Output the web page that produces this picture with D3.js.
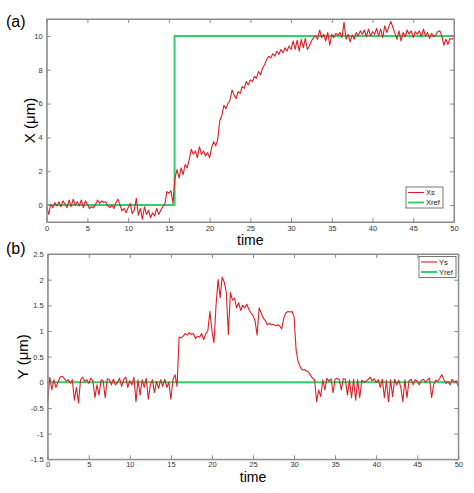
<!DOCTYPE html>
<html lang="en">
<head>
  <meta charset="UTF-8">
  <title>X and Y tracking</title>
  <style>
    body { margin: 0; background: #fff; }
    svg { display: block; font-family: "Liberation Sans", Arial, sans-serif; }
    .tick text { font-size: 7.5px; fill: #333; }
    .tick line, .domain { stroke: #8a8a8a; }
    .frame { fill: none; stroke: #8a8a8a; stroke-width: 1; }
    .legend text { font-size: 7.5px; fill: #222; }
  </style>
</head>
<body>
  <svg width="474" height="493"></svg>
  <script src="https://d3js.org/d3.v7.min.js"></script>
  <script>
    // sample time, 0.25 s step
    const time = d3.range(0, 50.001, 0.25);

    const xsValues = [
      -0.1, -0.55, 0.05, -0.15, 0.15, -0.05, 0.2, -0.1, 0.25, 0.05, -0.15, 0.3,
      -0.1, 0.35, 0.0, 0.2, -0.05, 0.3, -0.15, 0.25, 0.05, -0.2, -0.1, -0.15,
      0.05, 0.3, 0.1, 0.25, 0.15, 0.2, -0.05, -0.15, 0.0, -0.2, 0.15, 0.35,
      0.0, -0.35, -0.2, -0.45, -0.15, 0.1, -0.5, -0.3, 0.4, -0.6, -0.2, -0.85,
      -0.1, -0.55, -0.3, -0.75, -0.45, -0.65, -0.2, -0.55, -0.3, -0.1, 0.05, 0.8,
      0.7, 0.85, 0.1, 1.6, 2.1, 1.6, 2.2, 1.8, 2.4, 2.2, 2.7, 3.3,
      3.0, 3.2, 2.8, 3.45, 3.0, 3.2, 2.9, 3.1, 2.8, 3.4, 3.75, 3.5,
      3.9, 5.0, 5.3, 5.9, 5.7, 6.0, 6.2, 6.8, 6.5, 6.3, 6.7, 6.6,
      7.0, 6.9, 7.3, 7.1, 7.4, 7.3, 7.6, 7.5, 7.9, 7.7, 8.1, 8.3,
      8.6, 8.8, 8.7, 8.95, 8.8, 9.1, 8.9, 9.2, 9.0, 9.3, 9.1, 9.4,
      9.2, 9.7, 9.2, 9.75, 9.1, 9.8, 9.3, 9.85, 9.2, 9.4, 9.7, 9.9,
      10.0, 9.8, 10.35, 9.9, 10.1, 9.7, 10.2, 9.45, 10.1, 9.9, 10.15, 10.05,
      10.2, 9.9, 10.8, 9.8, 10.1, 9.65, 10.05, 9.8, 10.2, 10.0, 10.3, 10.1,
      10.35, 9.95, 10.4, 10.0, 10.25, 10.1, 10.45, 10.0, 10.4, 9.9, 10.6, 10.2,
      10.55, 10.85, 10.5, 10.15, 9.8, 10.3, 9.7, 10.2, 9.95, 10.35, 10.1, 10.3,
      9.9, 10.25, 10.1, 10.3, 9.95, 10.4, 10.0, 10.2, 9.85, 10.15, 9.95, 10.05,
      10.25, 10.3, 10.0, 9.45, 9.8, 9.5, 9.85, 9.8, 9.9
    ];

    const ysValues = [
      -0.38, 0.1, -0.15, 0.05, -0.1, 0.0, 0.1, 0.12, 0.08, 0.02, 0.05, -0.02,
      0.05, -0.35, -0.1, -0.4, 0.05, 0.1, 0.02, 0.05, -0.02, 0.08, 0.03, -0.3,
      -0.05, -0.25, 0.05, 0.03, -0.3, 0.07, 0.05, -0.05, 0.06, -0.05, 0.0, 0.08,
      -0.08, 0.05, 0.1, -0.1, 0.03, -0.05, 0.1, -0.38, 0.05, -0.25, 0.05, -0.1,
      0.08, -0.33, -0.05, 0.05, -0.2, 0.02, -0.12, 0.05, -0.08, 0.06, -0.1, 0.0,
      -0.33, 0.05, 0.15, -0.08, 0.88, 0.87, 0.9, 0.95, 0.92, 0.97, 0.93, 0.95,
      0.85, 0.9, 0.88, 0.95, 0.83, 0.95, 1.0, 1.38, 1.0, 0.77, 1.5, 2.0,
      1.65, 2.05, 1.95, 1.75, 0.93, 1.75, 1.6, 1.64, 1.45, 1.55, 1.4, 1.5,
      1.45, 1.52, 1.42, 1.35, 1.3, 1.2, 0.92, 1.45, 1.35, 1.25, 1.2, 1.12,
      1.15, 1.12, 1.13, 1.1, 1.12, 1.1, 1.04, 1.25, 1.35, 1.38, 1.37, 1.38,
      1.28, 0.63, 0.4, 0.3, 0.24, 0.25, 0.22, 0.2, 0.14, 0.08, 0.05, -0.38,
      -0.15, -0.28, 0.05, -0.15, 0.08, 0.02, 0.07, -0.2, 0.06, 0.08, 0.05, -0.15,
      0.07, 0.06, -0.25, 0.05, -0.3, 0.06, -0.35, 0.05, -0.3, 0.04, 0.0, 0.02,
      0.05, 0.1, 0.03, 0.07, 0.0, 0.05, -0.1, 0.06, -0.3, 0.04, -0.38, 0.05,
      -0.28, 0.06, -0.05, 0.04, -0.1, -0.38, 0.05, -0.3, 0.03, 0.06, -0.05, 0.05,
      0.02, -0.05, 0.04, 0.06, 0.0, 0.05, 0.08, -0.3, -0.05, 0.04, 0.02, 0.08,
      0.15, 0.05, -0.02, 0.02, -0.05, 0.06, 0.0, 0.03, -0.08
    ];

    // reference steps: [time, value] breakpoints
    const xrefSteps = [[0, 0], [15.7, 0], [15.7, 10], [50, 10]];
    const yrefSteps = [[0, 0], [50, 0]];

    const timeTicks = [0, 5, 10, 15, 20, 25, 30, 35, 40, 45, 50];
    const xTicks = [0, 2, 4, 6, 8, 10];
    const yTicks = [-1.5, -1, -0.5, 0, 0.5, 1, 1.5, 2, 2.5];

    const red = "#dd1f26";
    const green = "#2fd16a";
    const fmt = d => String(d);   // matlab style: 1, 0.5, -1.5

    const svg = d3.select("svg");

    function panel(opt) {
      const x = d3.scaleLinear().domain([0, 50]).range([opt.left, opt.right]);
      const y = d3.scaleLinear().domain(opt.yDomain).range([opt.bottom, opt.top]);
      const g = svg.append("g");

      g.append("rect").attr("x", opt.left).attr("y", opt.top)
        .attr("width", opt.right - opt.left).attr("height", opt.bottom - opt.top)
        .attr("fill", "#fff");

      const line = d3.line().x(d => x(d[0])).y(d => y(d[1]));

      g.append("path").datum(opt.ref)
        .attr("d", line).attr("fill", "none")
        .attr("stroke", green).attr("stroke-width", 2);

      g.append("path").datum(time.map((t, i) => [t, opt.values[i]]))
        .attr("d", line).attr("fill", "none")
        .attr("stroke", red).attr("stroke-width", 1.1)
        .attr("stroke-linejoin", "round");

      g.append("g").attr("transform", `translate(0,${opt.bottom})`)
        .call(d3.axisBottom(x).tickValues(timeTicks).tickSize(-4).tickSizeOuter(0)
          .tickPadding(opt.xPad).tickFormat(fmt));
      g.append("g").attr("transform", `translate(0,${opt.top})`)
        .call(d3.axisTop(x).tickValues(timeTicks).tickSize(-4).tickSizeOuter(0).tickFormat(""));
      g.append("g").attr("transform", `translate(${opt.left},0)`)
        .call(d3.axisLeft(y).tickValues(opt.yTicks).tickSize(-4).tickSizeOuter(0)
          .tickPadding(4).tickFormat(fmt));
      g.append("g").attr("transform", `translate(${opt.right},0)`)
        .call(d3.axisRight(y).tickValues(opt.yTicks).tickSize(-4).tickSizeOuter(0).tickFormat(""));

      g.append("rect").attr("class", "frame")
        .attr("x", opt.left).attr("y", opt.top)
        .attr("width", opt.right - opt.left).attr("height", opt.bottom - opt.top);

      g.append("text").attr("x", (opt.left + opt.right) / 2).attr("y", opt.timeY)
        .attr("text-anchor", "middle").attr("font-size", 14).text("time");

      g.append("text")
        .attr("transform", `translate(${opt.labelX},${(opt.top + opt.bottom) / 2}) rotate(-90)`)
        .attr("text-anchor", "middle").attr("font-size", 15).text(opt.yLabel);

      g.append("text").attr("x", opt.tagX).attr("y", opt.tagY)
        .attr("font-size", 16).text(opt.tag);

      const lg = g.append("g").attr("class", "legend");
      lg.append("rect").attr("x", opt.legend.x).attr("y", opt.legend.y)
        .attr("width", 37).attr("height", 21)
        .attr("fill", "#fff").attr("stroke", "#555").attr("stroke-width", 0.8);
      opt.legend.names.forEach((name, i) => {
        const ly = opt.legend.y + 5.5 + i * 10;
        lg.append("line").attr("x1", opt.legend.x + 2).attr("x2", opt.legend.x + 18)
          .attr("y1", ly).attr("y2", ly)
          .attr("stroke", i === 0 ? red : green).attr("stroke-width", i === 0 ? 1.1 : 2);
        lg.append("text").attr("x", opt.legend.x + 20).attr("y", ly + 2.7).text(name);
      });
    }

    panel({
      left: 46.7, right: 454, top: 19, bottom: 222,
      yDomain: [-1, 11], yTicks: xTicks, values: xsValues, ref: xrefSteps,
      yLabel: "X (μm)", labelX: 35, timeY: 245, xPad: 3.5,
      tag: "(a)", tagX: 6, tagY: 27,
      legend: { x: 406, y: 187, names: ["Xs", "Xref"] }
    });

    panel({
      left: 47.7, right: 458.3, top: 254, bottom: 459.3,
      yDomain: [-1.5, 2.5], yTicks: yTicks, values: ysValues, ref: yrefSteps,
      yLabel: "Y (μm)", labelX: 28, timeY: 482, xPad: 2,
      tag: "(b)", tagX: 6, tagY: 254,
      legend: { x: 419, y: 256.5, names: ["Ys", "Yref"] }
    });
  </script>
</body>
</html>
